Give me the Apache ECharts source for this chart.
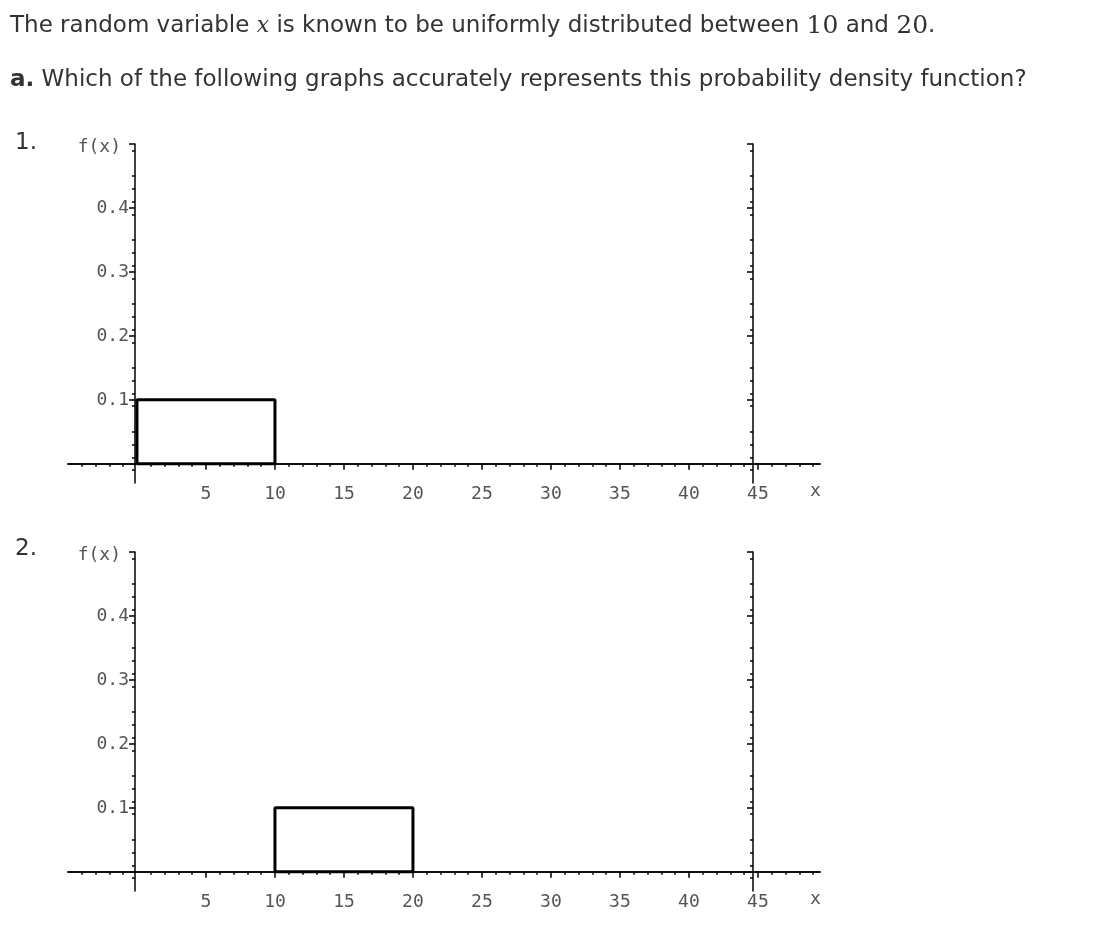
<!DOCTYPE html>
<html><head><meta charset="utf-8">
<script src="https://cdn.jsdelivr.net/npm/echarts@6/dist/echarts.min.js"></script>
<style>body{margin:0;background:#fff}#c{width:1100px;height:930px}</style></head>
<body><div id="c"></div>
<script>
const xTicks=[5,10,15,20,25,30,35,40,45];
const yTicks=[0.1,0.2,0.3,0.4];
const rect1X=[0,0,10,10,0];
const rect1Y=[0,0.1,0.1,0,0];
const rect2X=[10,10,20,20,10];
const rect2Y=[0,0.1,0.1,0,0];
const rects=[[rect1X,rect1Y],[rect2X,rect2Y]];
const chart=echarts.init(document.getElementById('c'));
const grids=[],xAxes=[],yAxes=[],series=[];
const tops=[144,552];
const lab={color:'#555',fontFamily:'DejaVu Sans Mono',fontSize:18};
tops.forEach((t,g)=>{
  grids.push({left:68,width:752,top:t,height:339});
  for(let k=0;k<2;k++){
    const inside=k===1;
    xAxes.push({gridIndex:g,type:'value',min:-5,max:49.5,interval:5,
      axisLine:{onZero:true,onZeroAxisIndex:g*2,lineStyle:{color:'#000',width:1.5}},
      axisTick:{inside:inside,length:6,lineStyle:{color:'#000',width:1.5},customValues:xTicks},
      minorTick:{show:true,splitNumber:5,length:3,lineStyle:{color:'#000',width:1.5}},
      splitLine:{show:false},
      axisLabel:{show:!inside,customValues:xTicks,margin:2,...lab,formatter:v=>String(v)}});
    yAxes.push({gridIndex:g,type:'value',min:-0.03,max:0.5,interval:0.1,
      offset:-67,
      name:inside?'':'f(x)',nameLocation:'end',nameGap:-12,nameTextStyle:Object.assign({},lab,{align:'right',padding:[0,14,0,0]}),
      axisLine:{onZero:false,lineStyle:{color:'#000',width:1.5}},
      axisTick:{inside:inside,length:6,lineStyle:{color:'#000',width:1.5},customValues:yTicks.concat([0.5])},
      minorTick:{show:true,splitNumber:5,length:3,lineStyle:{color:'#000',width:1.5}},
      splitLine:{show:false},
      axisLabel:{show:!inside,customValues:yTicks,margin:6,...lab,formatter:v=>v.toFixed(1)}});
  }
  series.push({type:'line',xAxisIndex:g*2,yAxisIndex:g*2,symbol:'none',silent:true,
    lineStyle:{color:'#000',width:3},data:rects[g][0].map((x,i)=>[x,rects[g][1][i]])});
});
const ts={fontFamily:'DejaVu Sans',fontSize:23,fill:'#333'};
chart.setOption({animation:false,grid:grids,xAxis:xAxes,yAxis:yAxes,series:series,
 graphic:[
  {type:'text',left:10,top:14,style:{text:'The random variable {i|x} is known to be uniformly distributed between {s|10} and {s|20}.',
    ...ts,rich:{i:{fontFamily:'DejaVu Serif',fontStyle:'italic',fontSize:22,fill:'#333'},s:{fontFamily:'DejaVu Serif',fontSize:25,fill:'#333'}}}},
  {type:'text',left:10,top:69,style:{text:'{b|a.} Which of the following graphs accurately represents this probability density function?',...ts,rich:{b:{fontWeight:'bold',fontFamily:'DejaVu Sans',fontSize:23,fill:'#333'}}}},
  {type:'text',left:15,top:132,style:{text:'1.',...ts}},
  {type:'text',left:15,top:538,style:{text:'2.',...ts}},
  {type:'text',left:810,top:482,style:{text:'x',...lab,fill:'#555'}},
  {type:'text',left:810,top:890,style:{text:'x',...lab,fill:'#555'}}
 ]});
</script></body></html>
